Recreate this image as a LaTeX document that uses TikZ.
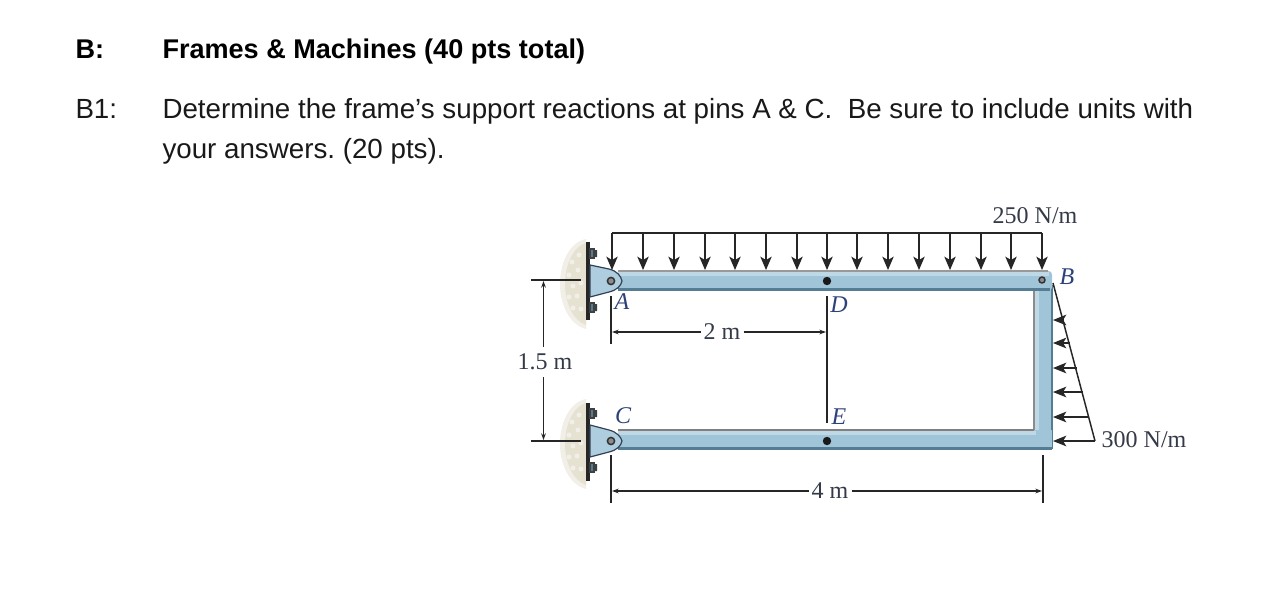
\documentclass[tikz,border=0pt]{standalone}
\usepackage{fontspec}
\setmainfont{Liberation Sans}
\newfontfamily\figfont{Liberation Serif}
\usetikzlibrary{arrows.meta}
\definecolor{beamblue}{RGB}{160,196,216}
\definecolor{beamlight}{RGB}{190,216,230}
\definecolor{beamdark}{RGB}{84,124,146}
\definecolor{bracketline}{RGB}{50,66,84}
\definecolor{figtext}{RGB}{52,58,72}
\definecolor{figletter}{RGB}{44,66,120}
\definecolor{gravel}{RGB}{230,226,210}
\definecolor{gravelsoft}{RGB}{241,239,231}
\tikzset{
  every picture/.style={line width=0.75pt},
  bodytext/.style={anchor=base west,inner xsep=0pt,text=black!90,font=\fontsize{20.8}{24}\selectfont},
  headtext/.style={anchor=base west,inner xsep=0pt,text=black,font=\fontsize{20.3}{24}\selectfont\bfseries},
  figlabel/.style={text=figtext,inner sep=1pt,font=\figfont\fontsize{18}{20}\selectfont},
  dimlabel/.style={figlabel,inner xsep=2pt,inner ysep=5pt},
  figletterlabel/.style={text=figletter,inner sep=1pt,font=\figfont\itshape\fontsize{18}{20}\selectfont},
  loadline/.style={draw=black!85,line width=1.1pt},
  loadarrow/.style={draw=black!85,line width=1.1pt,-{Stealth[length=10pt,width=8.5pt,inset=2.5pt]}},
  sidearrow/.style={draw=black!85,line width=1.1pt,-{Stealth[length=10pt,width=8pt,inset=2.5pt]}},
  dimline/.style={draw=black!85,line width=1.1pt},
  dimarrow/.style={draw=black!85,line width=1.1pt,-{Stealth[length=5pt,width=3.5pt]}},
  bracket/.style={fill=beamblue!85!white,draw=bracketline,line width=0.9pt},
  pin/.style={fill=black!45,draw=black!80,line width=1.1pt},
  dot/.style={fill=black!90,draw=none},
  wallplate/.style={fill=black!85,draw=none},
  bolt/.style={fill=beamdark,draw=black!75,line width=0.8pt},
  pebble/.style={fill=gravelsoft,draw=none},
}

\begin{document}
\frenchspacing
\begin{tikzpicture}[x=0.75pt,y=0.75pt,yscale=-1,xscale=1]
\path [fill=white] (0,0) rectangle (1278,590);
\useasboundingbox (0,0) rectangle (1278,590);

% Text Node
\draw (75,58) node (headB) [headtext] {B:};
% Text Node
\draw (162,58) node (headFrames) [headtext] {Frames \& Machines (40 pts total)};
% Text Node
\draw (75,118) node (headBone) [bodytext] {B1:};
% Text Node
\draw (162,118) node (lineOne) [bodytext] {Determine the frame’s support reactions at pins A \& C.\ \ Be sure to include units with};
% Text Node
\draw (162,158.5) node (lineTwo) [bodytext] {your answers. (20 pts).};

%Shape: Gravel top
\fill [gravelsoft] (586,239) .. controls (570,242) and (560,262) .. (560,284) .. controls (560,305) and (570,325) .. (586,329) -- cycle ;
\fill [gravel] (586,243) .. controls (574,246) and (565,264) .. (565,284) .. controls (565,304) and (574,321) .. (586,325) -- cycle ;
%Shape: Gravel bottom
\fill [gravelsoft] (586,399) .. controls (570,402) and (560,422) .. (560,444) .. controls (560,465) and (570,485) .. (586,489) -- cycle ;
\fill [gravel] (586,403) .. controls (574,406) and (565,424) .. (565,444) .. controls (565,464) and (574,481) .. (586,485) -- cycle ;
%Shape: Pebbles
\fill [pebble] (572,262) circle (2.5) (579,255) circle (2.5) (569,275) circle (2.5) (578,270) circle (2.5) (573,286) circle (2.5) (581,283) circle (2.5) (569,297) circle (2.5) (577,296) circle (2.5) (573,308) circle (2.5) (581,309) circle (2.5);
\fill [pebble] (572,422) circle (2.5) (579,415) circle (2.5) (569,435) circle (2.5) (578,430) circle (2.5) (573,446) circle (2.5) (581,443) circle (2.5) (569,457) circle (2.5) (577,456) circle (2.5) (573,468) circle (2.5) (581,469) circle (2.5);

%Shape: Frame vertical member
\fill [beamblue] (1034,288) rectangle (1052,449);
\fill [beamlight] (1034,290) rectangle (1039,432);
\draw [black!45,line width=1.2pt] (1034,290) -- (1034,430);
\draw [beamdark,line width=1.4pt] (1052,285) -- (1052,449);
%Shape: Upper beam
\fill [beamblue] (618,271) -- (1048,271) .. controls (1051,271) and (1052,272) .. (1052,275) -- (1052,287) .. controls (1052,289) and (1051,290) .. (1049,290) -- (618,290) -- cycle ;
\fill [beamlight] (618,272) rectangle (1049,276);
\draw [black!40,line width=1pt] (618,271) -- (1048,271);
\draw [beamdark,line width=1.6pt] (618,289.5) -- (1050,289.5);
%Shape: Lower beam
\fill [beamblue] (618,430) rectangle (1052,449);
\fill [beamlight] (618,431) rectangle (1036,435);
\draw [black!50,line width=1pt] (618,430) -- (1034,430);
\draw [beamdark,line width=1.6pt] (618,448.5) -- (1052,448.5);

%Shape: Wall plate and bolts top
\fill [wallplate] (586,242) rectangle (589.5,320);
\draw [bolt] (590,249) rectangle (594,258);
\draw [bolt] (590,303) rectangle (594,312);
\fill [black!75] (594,250) rectangle (597,257) (594,304) rectangle (597,311);
%Shape: Wall plate and bolts bottom
\fill [wallplate] (586,403) rectangle (589.5,481);
\draw [bolt] (590,409) rectangle (594,418);
\draw [bolt] (590,463) rectangle (594,472);
\fill [black!75] (594,410) rectangle (597,417) (594,464) rectangle (597,471);

%Shape: Bracket A
\draw [bracket] (590,265) -- (609,269) .. controls (617,271) and (621,276) .. (622,281) .. controls (621,286) and (617,290) .. (609,292) -- (590,297) -- cycle ;
%Shape: Bracket C
\draw [bracket] (590,425) -- (609,430) .. controls (617,432) and (621,437) .. (622,441) .. controls (621,446) and (617,450) .. (609,452) -- (590,457) -- cycle ;
%Shape: Circle
\draw [pin] (611,281) circle (3.6);
\draw [pin] (611,441) circle (3.6);
\draw [pin] (1042,280) circle (3);
\fill [dot] (827,281) circle (4.2);
\fill [dot] (827,441) circle (4.2);

%Straight Lines
\draw [loadline] (612,233) -- (1042,233) ;
\draw [loadarrow] (612,233) -- (612,270) ;
\draw [loadarrow] (643,233) -- (643,270) ;
\draw [loadarrow] (674,233) -- (674,270) ;
\draw [loadarrow] (705,233) -- (705,270) ;
\draw [loadarrow] (735,233) -- (735,270) ;
\draw [loadarrow] (766,233) -- (766,270) ;
\draw [loadarrow] (797,233) -- (797,270) ;
\draw [loadarrow] (827,233) -- (827,270) ;
\draw [loadarrow] (857,233) -- (857,270) ;
\draw [loadarrow] (888,233) -- (888,270) ;
\draw [loadarrow] (919,233) -- (919,270) ;
\draw [loadarrow] (950,233) -- (950,270) ;
\draw [loadarrow] (981,233) -- (981,270) ;
\draw [loadarrow] (1011,233) -- (1011,270) ;
\draw [loadarrow] (1042,233) -- (1042,270) ;

%Straight Lines
\draw [loadline] (1053,283) -- (1095,441) ;
\draw [sidearrow] (1064,320) -- (1053,320) ;
\draw [sidearrow] (1070,343) -- (1053,343) ;
\draw [sidearrow] (1077,368) -- (1053,368) ;
\draw [sidearrow] (1083,392) -- (1053,392) ;
\draw [sidearrow] (1089,417) -- (1053,417) ;
\draw [sidearrow] (1095,441) -- (1053,441) ;

% Text Node
\draw (1035,216) node (loadTop) [figlabel] {250 N/m};
% Text Node
\draw (1144,440) node (loadSide) [figlabel] {300 N/m};
% Text Node
\draw (622,302) node (ptA) [figletterlabel] {A};
% Text Node
\draw (1067,277) node (ptB) [figletterlabel] {B};
% Text Node
\draw (623,416) node (ptC) [figletterlabel] {C};
% Text Node
\draw (839,305) node (ptD) [figletterlabel] {D};
% Text Node
\draw (839,417) node (ptE) [figletterlabel] {E};
% Text Node
\draw (722,332) node (dimTwo) [dimlabel] {2 m};
% Text Node
\draw (830,491) node (dimFour) [dimlabel] {4 m};
% Text Node
\draw (545,362) node (dimHeight) [dimlabel] {1.5 m};

%Coordinates
\coordinate (heightTop) at (543.5,281);
\coordinate (heightBottom) at (543.5,440);

%Straight Lines
\draw [dimline] (531,280) -- (581,280) ;
\draw [dimline] (531,441) -- (581,441) ;
\draw [dimarrow] (dimHeight.north -| heightTop) -- (heightTop) ;
\draw [dimarrow] (dimHeight.south -| heightBottom) -- (heightBottom) ;
\draw [dimline] (611,296) -- (611,344) ;
\draw [dimline] (827,296) -- (827,423) ;
\draw [dimarrow] (dimTwo) -- (612,332) ;
\draw [dimarrow] (dimTwo) -- (826,332) ;
\draw [dimline] (611,455) -- (611,503) ;
\draw [dimline] (1043,455) -- (1043,503) ;
\draw [dimarrow] (dimFour) -- (612,491) ;
\draw [dimarrow] (dimFour) -- (1042,491) ;

\end{tikzpicture}
\end{document}
